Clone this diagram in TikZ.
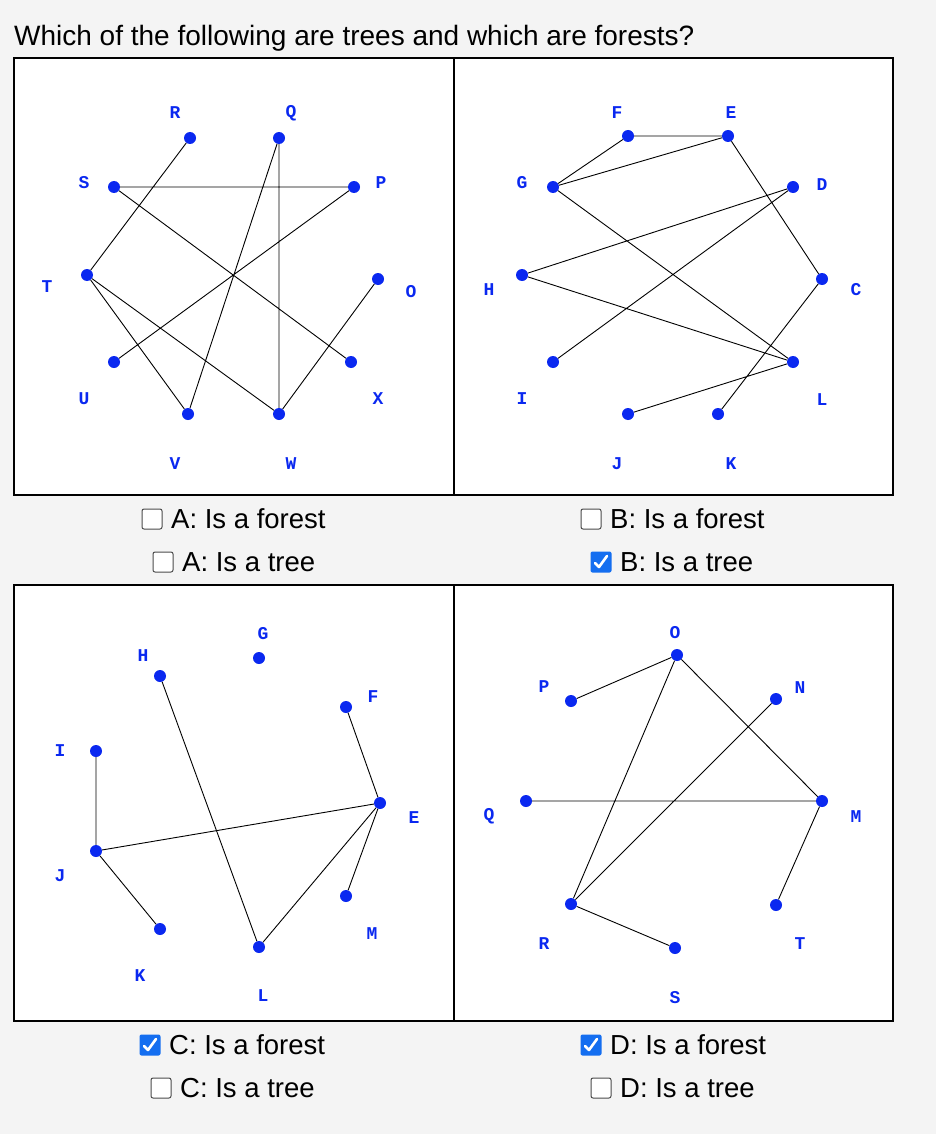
\documentclass[tikz,border=0pt]{standalone}
\usepackage{fontspec}
\setmainfont{Liberation Sans}
\newfontfamily\lblfont{Liberation Mono}
\definecolor{bg}{HTML}{F4F4F4}
\definecolor{dotblue}{RGB}{10,40,240}
\definecolor{chkblue}{RGB}{20,110,240}
\begin{document}
\begin{tikzpicture}[x=1pt,y=-1pt,
  vtx/.style={circle,fill=dotblue,inner sep=0pt,minimum size=12pt},
  lbl/.style={text=dotblue,font=\lblfont\bfseries\fontsize{18}{18}\selectfont,inner sep=0pt},
  edge/.style={black,line width=0.9pt},
  panel/.style={draw=black,line width=1.3pt,fill=white},
  txt/.style={font=\fontsize{27.5}{30}\selectfont,anchor=west,inner sep=0pt},
  cbox/.style={draw=black!70,line width=1pt,rounded corners=2pt,fill=white,minimum size=20pt,inner sep=0pt},
  cboxon/.style={fill=chkblue,rounded corners=2pt,minimum size=21pt,inner sep=0pt}]
\fill[bg] (0,0) rectangle (936,1134);
\useasboundingbox (0,0) rectangle (936,1134);
\node[anchor=west,inner sep=0pt,font=\fontsize{28}{32}\selectfont] (title) at (14,38) {Which of the following are trees and which are forests?};
\draw[panel] (14,58) rectangle (454,495);
\draw[panel] (454,58) rectangle (893,495);
\draw[panel] (14,585) rectangle (454,1021);
\draw[panel] (454,585) rectangle (893,1021);
\newcommand\V[5]{\node[vtx] (#1) at (#2,#3) {}; \node[lbl] at #4 {#5};}
% A
\V{aR}{190}{138}{(175,113)}{R}
\V{aQ}{279}{138}{(291,113)}{Q}
\V{aS}{114}{187}{(84,183)}{S}
\V{aP}{354}{187}{(381,183)}{P}
\V{aT}{87}{275}{(47,287)}{T}
\V{aO}{378}{279}{(411,292)}{O}
\V{aU}{114}{362}{(84,399)}{U}
\V{aX}{351}{362}{(378,399)}{X}
\V{aV}{188}{414}{(175,464)}{V}
\V{aW}{279}{414}{(291,464)}{W}
\draw[edge] (aR)--(aT) (aQ)--(aV) (aQ)--(aW) (aS)--(aP) (aS)--(aX) (aP)--(aU) (aT)--(aV) (aT)--(aW) (aO)--(aW);
% B
\V{bF}{628}{136}{(617,113)}{F}
\V{bE}{728}{136}{(731,113)}{E}
\V{bG}{553}{187}{(522,183)}{G}
\V{bD}{793}{187}{(822,185)}{D}
\V{bH}{522}{275}{(489,290)}{H}
\V{bC}{822}{279}{(856,290)}{C}
\V{bI}{553}{362}{(522,399)}{I}
\V{bL}{793}{362}{(822,400)}{L}
\V{bJ}{628}{414}{(617,464)}{J}
\V{bK}{718}{414}{(731,464)}{K}
\draw[edge] (bF)--(bE) (bF)--(bG) (bG)--(bE) (bE)--(bC) (bC)--(bK) (bG)--(bL) (bH)--(bD) (bH)--(bL) (bI)--(bD) (bJ)--(bL);
% C
\V{cG}{259}{658}{(263,634)}{G}
\V{cH}{160}{676}{(143,656)}{H}
\V{cF}{346}{707}{(373,697)}{F}
\V{cI}{96}{751}{(60,751)}{I}
\V{cE}{380}{803}{(414,818)}{E}
\V{cJ}{96}{851}{(60,876)}{J}
\V{cM}{346}{896}{(372,934)}{M}
\V{cK}{160}{929}{(140,976)}{K}
\V{cL}{259}{947}{(263,996)}{L}
\draw[edge] (cH)--(cL) (cF)--(cE) (cI)--(cJ) (cJ)--(cE) (cJ)--(cK) (cL)--(cE) (cE)--(cM);
% D
\V{dO}{677}{655}{(675,633)}{O}
\V{dP}{571}{701}{(544,687)}{P}
\V{dN}{776}{699}{(800,688)}{N}
\V{dQ}{526}{801}{(489,816)}{Q}
\V{dM}{822}{801}{(856,817)}{M}
\V{dR}{571}{904}{(544,944)}{R}
\V{dT}{776}{905}{(800,944)}{T}
\V{dS}{675}{948}{(675,998)}{S}
\draw[edge] (dP)--(dO) (dO)--(dR) (dO)--(dM) (dQ)--(dM) (dN)--(dR) (dR)--(dS) (dM)--(dT);
% checkboxes
\newcommand\CB[4]{\node[cbox] at (#1,#2) {}; \node[txt] at (#1+19,#2) {#4};}
\newcommand\CBon[4]{\node[cboxon] at (#1,#2) {};
  \draw[white,line width=2.6pt,line cap=round,line join=round] (#1-6,#2+1)--(#1-2,#2+5)--(#1+6,#2-6);
  \node[txt] at (#1+19,#2) {#4};}
\CB{152}{519}{}{A: Is a forest}
\CB{163}{562}{}{A: Is a tree}
\CB{591}{519}{}{B: Is a forest}
\CBon{601}{562}{}{B: Is a tree}
\CBon{150}{1045}{}{C: Is a forest}
\CB{161}{1088}{}{C: Is a tree}
\CBon{591}{1045}{}{D: Is a forest}
\CB{601}{1088}{}{D: Is a tree}
\end{tikzpicture}
\end{document}
